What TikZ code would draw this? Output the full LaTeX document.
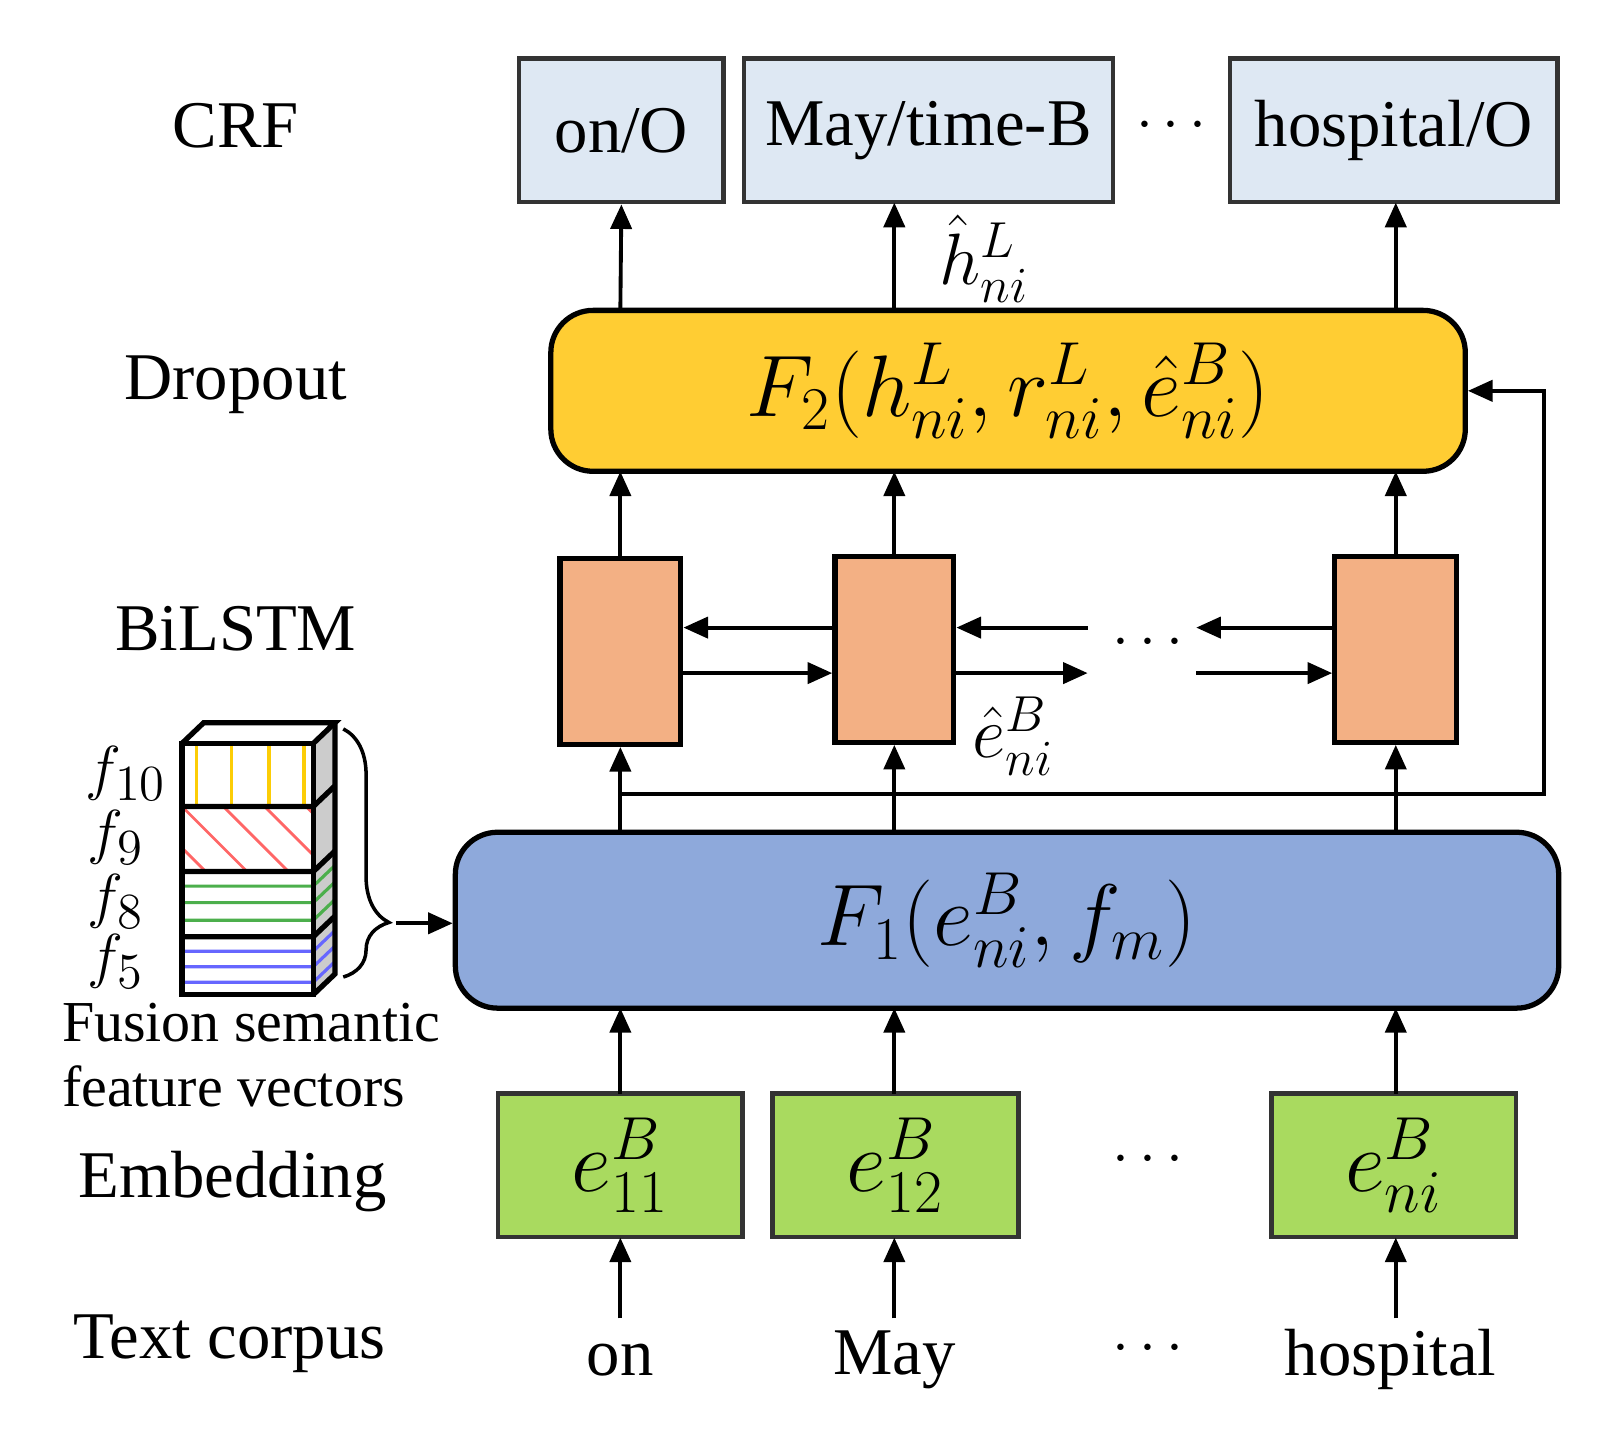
\documentclass[tikz,border=0pt]{standalone}
\usepackage{fontspec}
\setmainfont{Liberation Serif}
\usetikzlibrary{arrows.meta,decorations.pathreplacing}
\definecolor{crfc}{HTML}{DEE8F3}
\definecolor{dropc}{HTML}{FFCD33}
\definecolor{lstmc}{HTML}{F3B084}
\definecolor{f1c}{HTML}{8EA9DB}
\definecolor{embc}{HTML}{A9DA5F}
\begin{document}
\begin{tikzpicture}[x=0.01034cm,y=-0.01034cm,
  lbl/.style={font=\fontsize{19}{22}\selectfont},
  arr/.style={-{Triangle[length=7pt,width=6pt]},line width=1.1pt},
  crf/.style={draw=black!80,line width=1.3pt,fill=crfc,inner sep=0,minimum height=1.437cm,lbl},
  lstm/.style={draw=black,line width=1.5pt,fill=lstmc,inner sep=0,minimum height=1.86cm},
  emb/.style={draw=black!80,line width=1.3pt,fill=embc,inner sep=0,minimum height=1.437cm,mth},
  mth/.style={font=\fontsize{24}{28}\selectfont}]
\useasboundingbox (0,0) rectangle (1563,1396);
% left labels
\node[lbl] (lcrf) at (228,122) {CRF};
\node[lbl] (ldrop) at (228,372) {Dropout};
\node[lbl] (lbil) at (228,608) {BiLSTM};
\node[lbl] (lemb) at (225,1143) {Embedding};
\node[lbl] (ltxt) at (222,1300) {Text corpus};
\node[font=\fontsize{16.5}{18.5}\selectfont,align=left] (lfus) at (243,1020) {Fusion semantic\\feature vectors};
% CRF boxes
\node[crf,minimum width=2.047cm] (c1) at (601,126) {on/O};
\node[crf,minimum width=3.69cm] (c2) at (898,126) {May/time-B};
\node[crf,minimum width=3.28cm] (c3) at (1348,126) {hospital/O};
\node[lbl] (cd) at (1133,122) {$\cdots$};
% dropout
\node[draw=black,line width=1.5pt,rounded corners=12pt,fill=dropc,minimum width=9.15cm,minimum height=1.61cm,mth] (dr) at (975,378) {$F_2\bigl(h^L_{ni},r^L_{ni},\hat e^B_{ni}\bigr)$};
\node[font=\fontsize{21}{24}\selectfont] (hl) at (952,250) {$\hat h^L_{ni}$};
% lstm
\node[lstm,minimum width=1.21cm] (l1) at (600,630) {};
\node[lstm,minimum width=1.19cm] (l2) at (865,628) {};
\node[lstm,minimum width=1.22cm] (l3) at (1350,628) {};
\node[lbl] (ld) at (1110,622) {$\cdots$};
\coordinate (m1) at (1052,607); \coordinate (m2) at (1052,651);
\coordinate (m3) at (1157,607); \coordinate (m4) at (1157,651);
\draw[arr] (l2.west|-0,607) -- (l1.east|-0,607);
\draw[arr] (l1.east|-0,651) -- (l2.west|-0,651);
\draw[arr] (m1) -- (l2.east|-0,607);
\draw[arr] (l2.east|-0,651) -- (m2);
\draw[arr] (l3.west|-0,607) -- (m3);
\draw[arr] (m4) -- (l3.west|-0,651);
\node[font=\fontsize{21}{24}\selectfont] (eh) at (980,712) {$\hat e^B_{ni}$};
% F1
\node[draw=black,line width=1.5pt,rounded corners=12pt,fill=f1c,minimum width=11.04cm,minimum height=1.76cm,mth] (f1) at (974,890) {$F_1\bigl(e^B_{ni},f_m\bigr)$};
% embeddings
\node[emb,minimum width=2.45cm] (e1) at (600,1127) {$e^B_{11}$};
\node[emb,minimum width=2.46cm] (e2) at (866,1127) {$e^B_{12}$};
\node[emb,minimum width=2.45cm] (e3) at (1348,1127) {$e^B_{ni}$};
\node[lbl] (edt) at (1110,1122) {$\cdots$};
% words
\node[lbl] (w1) at (600,1315) {on};
\node[lbl] (w2) at (865,1315) {May};
\node[lbl] (w3) at (1345,1315) {hospital};
\node[lbl] (wd) at (1110,1305) {$\cdots$};
\foreach \w/\e/\x in {w1/e1/600,w2/e2/865,w3/e3/1350}{\draw[arr] (\x,1275) -- (\x,1197);}
\foreach \e/\x in {e1/600,e2/865,e3/1350}{\draw[arr] (\x,1058) -- (\x,975);}
\foreach \l/\x in {l1/600,l2/865,l3/1350}{\draw[arr] (\x,805) -- (\l.south);
  \draw[arr] (\l.north) -- (\x,456);}
\draw[arr] (600,300) -- (c1.south);
\draw[arr] (865,300) -- (865,196);
\draw[arr] (1350,300) -- (1350,196);
\coordinate (r1) at (1493,768); \coordinate (r2) at (1493,378);
\draw[line width=1.1pt,-{Triangle[length=7pt,width=6pt]}] (600,768) -- (r1) -- (r2) -- (dr.east);
% cube
\fill[white] (176,719) rectangle (303,962);
\foreach \x in {190,224,260,294}{\draw[yellow!65!orange,line width=1pt] (\x,721)--(\x,778);}
\begin{scope}
\clip (176,780) rectangle (324,843);
\foreach \s in {0,40,80,120,160}{\draw[red!60,line width=0.8pt] (176+\s-40,780)--(176+\s+25,845);}
\end{scope}
\foreach \y in {857,873,890}{\draw[green!55!black!70,line width=0.9pt] (176,\y)--(303,\y)--(324,\y-20);}
\foreach \y in {920,935,950}{\draw[blue!60,line width=0.9pt] (176,\y)--(303,\y)--(324,\y-20);}
\fill[gray!40] (303,719) -- (324,699) -- (324,942) -- (303,962) -- cycle;
\foreach \y in {857,873,890}{\draw[green!55!black!70,line width=0.9pt] (303,\y)--(324,\y-20);}
\foreach \y in {920,935,950}{\draw[blue!60,line width=0.9pt] (303,\y)--(324,\y-20);}
\draw[line width=1.5pt] (176,719) -- (197,699) -- (324,699) -- (303,719);
\draw[line width=1.5pt] (324,699) -- (324,942) -- (303,962);
\foreach \y in {780,843,906}{\draw[line width=1.5pt] (176,\y) -- (303,\y) -- (324,\y-20);}
\draw[line width=1.5pt] (176,719) rectangle (303,962);
\node[lbl] (f10) at (122,748) {$f_{10}$};
\node[lbl] (f9) at (112,810) {$f_9$};
\node[lbl] (f8) at (112,872) {$f_8$};
\node[lbl] (f5) at (112,930) {$f_5$};
\draw[decorate,decoration={brace,amplitude=13pt,aspect=0.78},line width=1pt] (332,705) -- (332,945);
\coordinate (bt) at (383,893);
\draw[arr] (bt) -- (f1.west|-bt);
\end{tikzpicture}
\end{document}
